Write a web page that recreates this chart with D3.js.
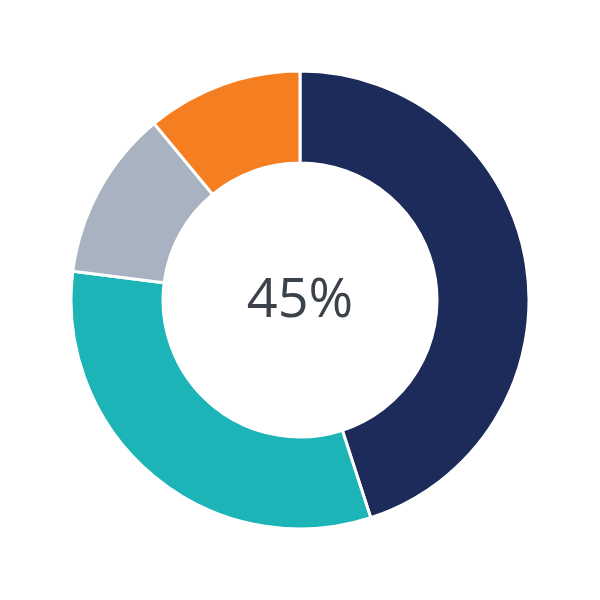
<!DOCTYPE html>
<html><head><meta charset="utf-8">
<script src="https://cdn.jsdelivr.net/npm/d3@7"></script>
<style>html,body{margin:0;padding:0;background:#fff;}</style>
</head><body>
<svg id="c" width="600" height="600"></svg>
<script>
const categories = ["A", "B", "C", "D"];
const values = [45, 32, 12, 11];
const colors = ["#1c2b5a", "#1db4b7", "#a8b2c0", "#f47e20"];
const centerLabel = "45%";

const svg = d3.select("#c");
const g = svg.append("g").attr("transform", "translate(300,300)");
const pie = d3.pie().sort(null).value(d => d.v);
const arc = d3.arc().innerRadius(137).outerRadius(229);
const data = categories.map((c, i) => ({c, v: values[i], col: colors[i]}));
g.selectAll("path").data(pie(data)).join("path")
  .attr("d", arc)
  .attr("fill", d => d.data.col)
  .attr("stroke", "#fff")
  .attr("stroke-width", 3);
g.append("text").attr("text-anchor", "middle").attr("y", 17)
  .style("font-family", "'Open Sans', sans-serif").style("font-size", "54px")
  .attr("fill", "#3b4249").text(centerLabel);
</script>
</body></html>
